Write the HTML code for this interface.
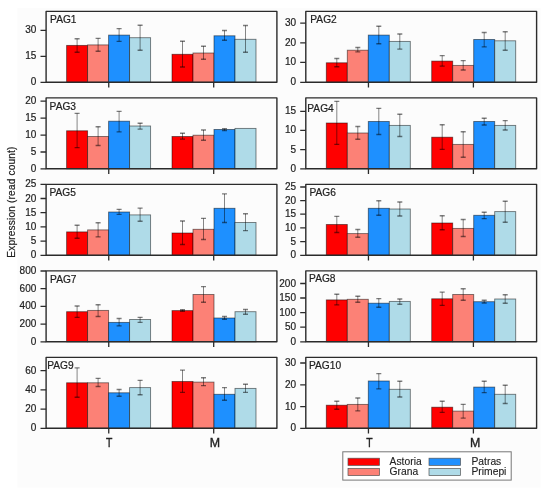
<!DOCTYPE html>
<html><head><meta charset="utf-8"><title>PAG expression</title>
<style>
html,body{margin:0;padding:0;background:#fff;}
svg{display:block;font-family:'Liberation Sans', Arial, Helvetica, sans-serif;}
text{stroke:#222;stroke-width:0.2px;}
.b{stroke:rgba(0,0,0,0.52);stroke-width:0.9;}
.e{stroke:rgba(0,0,0,0.47);stroke-width:1;fill:none;}
.c{stroke:rgba(0,0,0,0.5);stroke-width:1.4;fill:none;}
.fr{fill:none;stroke:#2b2b2b;stroke-width:1.4;stroke-linejoin:round;}
.tl{stroke:#2b2b2b;stroke-width:1.3;fill:none;}
.tk{font-size:10px;text-anchor:end;fill:#222;}
.ti{font-size:10.2px;fill:#222;}
.xl{font-size:12.4px;text-anchor:middle;fill:#222;stroke-width:0.35px;}
.yl{font-size:10.1px;letter-spacing:0.18px;fill:#222;}
.lg{font-size:10.3px;fill:#222;stroke-width:0.12px;}
</style></head>
<body>
<svg width="550" height="490" viewBox="0 0 550 490">
<rect x="17.5" y="8" width="523.2" height="479.5" fill="#fcfcfc"/>
<rect x="66.6" y="45.4" width="21" height="36.9" fill="#ff0000" class="b"/>
<rect x="87.6" y="44.9" width="21" height="37.4" fill="#fc8176" class="b"/>
<rect x="108.6" y="35.1" width="21" height="47.2" fill="#1e90ff" class="b"/>
<rect x="129.6" y="37.7" width="21" height="44.6" fill="#afdbe8" class="b"/>
<rect x="172" y="54.3" width="21" height="28" fill="#ff0000" class="b"/>
<rect x="193" y="53" width="21" height="29.3" fill="#fc8176" class="b"/>
<rect x="214" y="35.8" width="21" height="46.5" fill="#1e90ff" class="b"/>
<rect x="235" y="39.3" width="21" height="43" fill="#afdbe8" class="b"/>
<path class="e" d="M77.1 38.8V52.3"/><path class="c" d="M74.6 38.8h5M74.6 52.3h5"/>
<path class="e" d="M98.1 38.4V51.3"/><path class="c" d="M95.6 38.4h5M95.6 51.3h5"/>
<path class="e" d="M119.1 28.6V41.4"/><path class="c" d="M116.6 28.6h5M116.6 41.4h5"/>
<path class="e" d="M140.1 25.3V50.2"/><path class="c" d="M137.6 25.3h5M137.6 50.2h5"/>
<path class="e" d="M182.5 41.2V67"/><path class="c" d="M180 41.2h5M180 67h5"/>
<path class="e" d="M203.5 46.2V59.3"/><path class="c" d="M201 46.2h5M201 59.3h5"/>
<path class="e" d="M224.5 30.5V40.3"/><path class="c" d="M222 30.5h5M222 40.3h5"/>
<path class="e" d="M245.5 25.5V52.3"/><path class="c" d="M243 25.5h5M243 52.3h5"/>
<rect class="fr" x="46.1" y="11.4" width="230.8" height="70.9"/>
<text class="tk" x="36.3" y="85.3">0</text>
<text class="tk" x="36.3" y="59.3">15</text>
<text class="tk" x="36.3" y="33.3">30</text>
<path class="tl" d="M40.5 82.3H46.1M40.5 56.3H46.1M40.5 30.3H46.1M108.75 82.3v5.2M213.7 82.3v5.2"/>
<text class="ti" x="50.1" y="22.5">PAG1</text>
<rect x="326.3" y="62.8" width="21" height="19.5" fill="#ff0000" class="b"/>
<rect x="347.3" y="50.2" width="21" height="32.1" fill="#fc8176" class="b"/>
<rect x="368.3" y="35.1" width="21" height="47.2" fill="#1e90ff" class="b"/>
<rect x="389.3" y="41.4" width="21" height="40.9" fill="#afdbe8" class="b"/>
<rect x="431.7" y="61.1" width="21" height="21.2" fill="#ff0000" class="b"/>
<rect x="452.7" y="65.4" width="21" height="16.9" fill="#fc8176" class="b"/>
<rect x="473.7" y="39.5" width="21" height="42.8" fill="#1e90ff" class="b"/>
<rect x="494.7" y="40.8" width="21" height="41.5" fill="#afdbe8" class="b"/>
<path class="e" d="M336.8 58.5V66.7"/><path class="c" d="M334.3 58.5h5M334.3 66.7h5"/>
<path class="e" d="M357.8 47.5V51.9"/><path class="c" d="M355.3 47.5h5M355.3 51.9h5"/>
<path class="e" d="M378.8 26.2V43.8"/><path class="c" d="M376.3 26.2h5M376.3 43.8h5"/>
<path class="e" d="M399.8 34V49.1"/><path class="c" d="M397.3 34h5M397.3 49.1h5"/>
<path class="e" d="M442.2 55.6V66.1"/><path class="c" d="M439.7 55.6h5M439.7 66.1h5"/>
<path class="e" d="M463.2 60.6V70"/><path class="c" d="M460.7 60.6h5M460.7 70h5"/>
<path class="e" d="M484.2 32.5V46.9"/><path class="c" d="M481.7 32.5h5M481.7 46.9h5"/>
<path class="e" d="M505.2 31.8V50.2"/><path class="c" d="M502.7 31.8h5M502.7 50.2h5"/>
<rect class="fr" x="305.8" y="11.4" width="230.8" height="70.9"/>
<text class="tk" x="296" y="85.3">0</text>
<text class="tk" x="296" y="65.4">10</text>
<text class="tk" x="296" y="45.8">20</text>
<text class="tk" x="296" y="26.1">30</text>
<path class="tl" d="M300.2 82.3H305.8M300.2 62.4H305.8M300.2 42.8H305.8M300.2 23.1H305.8M368.45 82.3v5.2M473.4 82.3v5.2"/>
<text class="ti" x="310.3" y="23.3">PAG2</text>
<rect x="66.6" y="130.8" width="21" height="38" fill="#ff0000" class="b"/>
<rect x="87.6" y="136.5" width="21" height="32.3" fill="#fc8176" class="b"/>
<rect x="108.6" y="121.2" width="21" height="47.6" fill="#1e90ff" class="b"/>
<rect x="129.6" y="126" width="21" height="42.8" fill="#afdbe8" class="b"/>
<rect x="172" y="136.5" width="21" height="32.3" fill="#ff0000" class="b"/>
<rect x="193" y="135.2" width="21" height="33.6" fill="#fc8176" class="b"/>
<rect x="214" y="129.5" width="21" height="39.3" fill="#1e90ff" class="b"/>
<rect x="235" y="128.4" width="21" height="40.4" fill="#afdbe8" class="b"/>
<path class="e" d="M77.1 113.4V147.6"/><path class="c" d="M74.6 113.4h5M74.6 147.6h5"/>
<path class="e" d="M98.1 126.7V145.5"/><path class="c" d="M95.6 126.7h5M95.6 145.5h5"/>
<path class="e" d="M119.1 111.4V131.9"/><path class="c" d="M116.6 111.4h5M116.6 131.9h5"/>
<path class="e" d="M140.1 123.2V129.1"/><path class="c" d="M137.6 123.2h5M137.6 129.1h5"/>
<path class="e" d="M182.5 133.2V139.1"/><path class="c" d="M180 133.2h5M180 139.1h5"/>
<path class="e" d="M203.5 130V140.2"/><path class="c" d="M201 130h5M201 140.2h5"/>
<path class="e" d="M224.5 128.7V130.6"/><path class="c" d="M222 128.7h5M222 130.6h5"/>
<rect class="fr" x="46.1" y="97.9" width="230.8" height="70.9"/>
<text class="tk" x="36.3" y="171.8">0</text>
<text class="tk" x="36.3" y="155">5</text>
<text class="tk" x="36.3" y="138.1">10</text>
<text class="tk" x="36.3" y="121.2">15</text>
<text class="tk" x="36.3" y="104.2">20</text>
<path class="tl" d="M40.5 168.8H46.1M40.5 152H46.1M40.5 135.1H46.1M40.5 118.2H46.1M40.5 101.2H46.1M108.75 168.8v5.2M213.7 168.8v5.2"/>
<text class="ti" x="49.6" y="110">PAG3</text>
<rect x="326.3" y="123" width="21" height="45.8" fill="#ff0000" class="b"/>
<rect x="347.3" y="133" width="21" height="35.8" fill="#fc8176" class="b"/>
<rect x="368.3" y="121.5" width="21" height="47.3" fill="#1e90ff" class="b"/>
<rect x="389.3" y="125.4" width="21" height="43.4" fill="#afdbe8" class="b"/>
<rect x="431.7" y="137.2" width="21" height="31.6" fill="#ff0000" class="b"/>
<rect x="452.7" y="144.4" width="21" height="24.4" fill="#fc8176" class="b"/>
<rect x="473.7" y="121.5" width="21" height="47.3" fill="#1e90ff" class="b"/>
<rect x="494.7" y="125.4" width="21" height="43.4" fill="#afdbe8" class="b"/>
<path class="e" d="M336.8 101.4V144.4"/><path class="c" d="M334.3 101.4h5M334.3 144.4h5"/>
<path class="e" d="M357.8 126.5V139.3"/><path class="c" d="M355.3 126.5h5M355.3 139.3h5"/>
<path class="e" d="M378.8 108.4V134.5"/><path class="c" d="M376.3 108.4h5M376.3 134.5h5"/>
<path class="e" d="M399.8 114.3V136.5"/><path class="c" d="M397.3 114.3h5M397.3 136.5h5"/>
<path class="e" d="M442.2 124.7V149.4"/><path class="c" d="M439.7 124.7h5M439.7 149.4h5"/>
<path class="e" d="M463.2 131.7V157.2"/><path class="c" d="M460.7 131.7h5M460.7 157.2h5"/>
<path class="e" d="M484.2 118.2V125"/><path class="c" d="M481.7 118.2h5M481.7 125h5"/>
<path class="e" d="M505.2 120.6V130"/><path class="c" d="M502.7 120.6h5M502.7 130h5"/>
<rect class="fr" x="305.8" y="97.9" width="230.8" height="70.9"/>
<text class="tk" x="296" y="171.8">0</text>
<text class="tk" x="296" y="152.7">5</text>
<text class="tk" x="296" y="133.4">10</text>
<text class="tk" x="296" y="114.4">15</text>
<path class="tl" d="M300.2 168.8H305.8M300.2 149.7H305.8M300.2 130.4H305.8M300.2 111.4H305.8M368.45 168.8v5.2M473.4 168.8v5.2"/>
<text class="ti" x="307.3" y="112">PAG4</text>
<rect x="66.6" y="231.9" width="21" height="23.4" fill="#ff0000" class="b"/>
<rect x="87.6" y="229.9" width="21" height="25.4" fill="#fc8176" class="b"/>
<rect x="108.6" y="212" width="21" height="43.3" fill="#1e90ff" class="b"/>
<rect x="129.6" y="214.9" width="21" height="40.4" fill="#afdbe8" class="b"/>
<rect x="172" y="233" width="21" height="22.3" fill="#ff0000" class="b"/>
<rect x="193" y="229.3" width="21" height="26" fill="#fc8176" class="b"/>
<rect x="214" y="208.3" width="21" height="47" fill="#1e90ff" class="b"/>
<rect x="235" y="222.5" width="21" height="32.8" fill="#afdbe8" class="b"/>
<path class="e" d="M77.1 225.3V238.2"/><path class="c" d="M74.6 225.3h5M74.6 238.2h5"/>
<path class="e" d="M98.1 222.7V236.9"/><path class="c" d="M95.6 222.7h5M95.6 236.9h5"/>
<path class="e" d="M119.1 209.4V214.4"/><path class="c" d="M116.6 209.4h5M116.6 214.4h5"/>
<path class="e" d="M140.1 208.1V221.2"/><path class="c" d="M137.6 208.1h5M137.6 221.2h5"/>
<path class="e" d="M182.5 221V244.5"/><path class="c" d="M180 221h5M180 244.5h5"/>
<path class="e" d="M203.5 218.4V239.5"/><path class="c" d="M201 218.4h5M201 239.5h5"/>
<path class="e" d="M224.5 193.9V222.5"/><path class="c" d="M222 193.9h5M222 222.5h5"/>
<path class="e" d="M245.5 213.8V230.6"/><path class="c" d="M243 213.8h5M243 230.6h5"/>
<rect class="fr" x="46.1" y="184.4" width="230.8" height="70.9"/>
<text class="tk" x="36.3" y="258.3">0</text>
<text class="tk" x="36.3" y="244.1">5</text>
<text class="tk" x="36.3" y="229.9">10</text>
<text class="tk" x="36.3" y="215.7">15</text>
<text class="tk" x="36.3" y="201.5">20</text>
<text class="tk" x="36.3" y="187.4">25</text>
<path class="tl" d="M40.5 255.3H46.1M40.5 241.1H46.1M40.5 226.9H46.1M40.5 212.7H46.1M40.5 198.5H46.1M40.5 184.4H46.1M108.75 255.3v5.2M213.7 255.3v5.2"/>
<text class="ti" x="49.4" y="196.45">PAG5</text>
<rect x="326.3" y="224.5" width="21" height="30.8" fill="#ff0000" class="b"/>
<rect x="347.3" y="233.6" width="21" height="21.7" fill="#fc8176" class="b"/>
<rect x="368.3" y="208.3" width="21" height="47" fill="#1e90ff" class="b"/>
<rect x="389.3" y="209" width="21" height="46.3" fill="#afdbe8" class="b"/>
<rect x="431.7" y="223" width="21" height="32.3" fill="#ff0000" class="b"/>
<rect x="452.7" y="228.4" width="21" height="26.9" fill="#fc8176" class="b"/>
<rect x="473.7" y="215.3" width="21" height="40" fill="#1e90ff" class="b"/>
<rect x="494.7" y="211.6" width="21" height="43.7" fill="#afdbe8" class="b"/>
<path class="e" d="M336.8 216.4V232.5"/><path class="c" d="M334.3 216.4h5M334.3 232.5h5"/>
<path class="e" d="M357.8 229.5V237.3"/><path class="c" d="M355.3 229.5h5M355.3 237.3h5"/>
<path class="e" d="M378.8 200.7V215.3"/><path class="c" d="M376.3 200.7h5M376.3 215.3h5"/>
<path class="e" d="M399.8 202V216"/><path class="c" d="M397.3 202h5M397.3 216h5"/>
<path class="e" d="M442.2 215.7V229.7"/><path class="c" d="M439.7 215.7h5M439.7 229.7h5"/>
<path class="e" d="M463.2 219.5V236.5"/><path class="c" d="M460.7 219.5h5M460.7 236.5h5"/>
<path class="e" d="M484.2 212.3V218.6"/><path class="c" d="M481.7 212.3h5M481.7 218.6h5"/>
<path class="e" d="M505.2 201.3V222.3"/><path class="c" d="M502.7 201.3h5M502.7 222.3h5"/>
<rect class="fr" x="305.8" y="184.4" width="230.8" height="70.9"/>
<text class="tk" x="296" y="258.3">0</text>
<text class="tk" x="296" y="244.6">5</text>
<text class="tk" x="296" y="230.9">10</text>
<text class="tk" x="296" y="217.2">15</text>
<text class="tk" x="296" y="203.6">20</text>
<text class="tk" x="296" y="190">25</text>
<path class="tl" d="M300.2 255.3H305.8M300.2 241.6H305.8M300.2 227.9H305.8M300.2 214.2H305.8M300.2 200.6H305.8M300.2 187H305.8M368.45 255.3v5.2M473.4 255.3v5.2"/>
<text class="ti" x="309.5" y="195.9">PAG6</text>
<rect x="66.6" y="311.7" width="21" height="30.1" fill="#ff0000" class="b"/>
<rect x="87.6" y="310.4" width="21" height="31.4" fill="#fc8176" class="b"/>
<rect x="108.6" y="322.4" width="21" height="19.4" fill="#1e90ff" class="b"/>
<rect x="129.6" y="319.5" width="21" height="22.3" fill="#afdbe8" class="b"/>
<rect x="172" y="310.6" width="21" height="31.2" fill="#ff0000" class="b"/>
<rect x="193" y="294.5" width="21" height="47.3" fill="#fc8176" class="b"/>
<rect x="214" y="318" width="21" height="23.8" fill="#1e90ff" class="b"/>
<rect x="235" y="311.7" width="21" height="30.1" fill="#afdbe8" class="b"/>
<path class="e" d="M77.1 306V317.4"/><path class="c" d="M74.6 306h5M74.6 317.4h5"/>
<path class="e" d="M98.1 304.7V316.5"/><path class="c" d="M95.6 304.7h5M95.6 316.5h5"/>
<path class="e" d="M119.1 318.5V325.9"/><path class="c" d="M116.6 318.5h5M116.6 325.9h5"/>
<path class="e" d="M140.1 317.4V322.4"/><path class="c" d="M137.6 317.4h5M137.6 322.4h5"/>
<path class="e" d="M182.5 309.7V311.3"/><path class="c" d="M180 309.7h5M180 311.3h5"/>
<path class="e" d="M203.5 286.6V302.3"/><path class="c" d="M201 286.6h5M201 302.3h5"/>
<path class="e" d="M224.5 316.5V319.3"/><path class="c" d="M222 316.5h5M222 319.3h5"/>
<path class="e" d="M245.5 309.5V314.3"/><path class="c" d="M243 309.5h5M243 314.3h5"/>
<rect class="fr" x="46.1" y="270.9" width="230.8" height="70.9"/>
<text class="tk" x="36.3" y="344.8">0</text>
<text class="tk" x="36.3" y="327.1">200</text>
<text class="tk" x="36.3" y="309.4">400</text>
<text class="tk" x="36.3" y="291.7">600</text>
<text class="tk" x="36.3" y="274">800</text>
<path class="tl" d="M40.5 341.8H46.1M40.5 324.1H46.1M40.5 306.4H46.1M40.5 288.7H46.1M40.5 271H46.1M108.75 341.8v5.2M213.7 341.8v5.2"/>
<text class="ti" x="50.1" y="282.8">PAG7</text>
<rect x="326.3" y="299.9" width="21" height="41.9" fill="#ff0000" class="b"/>
<rect x="347.3" y="299.3" width="21" height="42.5" fill="#fc8176" class="b"/>
<rect x="368.3" y="303.2" width="21" height="38.6" fill="#1e90ff" class="b"/>
<rect x="389.3" y="301.4" width="21" height="40.4" fill="#afdbe8" class="b"/>
<rect x="431.7" y="298.8" width="21" height="43" fill="#ff0000" class="b"/>
<rect x="452.7" y="294.5" width="21" height="47.3" fill="#fc8176" class="b"/>
<rect x="473.7" y="301.7" width="21" height="40.1" fill="#1e90ff" class="b"/>
<rect x="494.7" y="299" width="21" height="42.8" fill="#afdbe8" class="b"/>
<path class="e" d="M336.8 294.2V304.9"/><path class="c" d="M334.3 294.2h5M334.3 304.9h5"/>
<path class="e" d="M357.8 296.2V302.3"/><path class="c" d="M355.3 296.2h5M355.3 302.3h5"/>
<path class="e" d="M378.8 298.6V307.3"/><path class="c" d="M376.3 298.6h5M376.3 307.3h5"/>
<path class="e" d="M399.8 299V304.3"/><path class="c" d="M397.3 299h5M397.3 304.3h5"/>
<path class="e" d="M442.2 292.1V305.4"/><path class="c" d="M439.7 292.1h5M439.7 305.4h5"/>
<path class="e" d="M463.2 288.8V300.3"/><path class="c" d="M460.7 288.8h5M460.7 300.3h5"/>
<path class="e" d="M484.2 300.3V303"/><path class="c" d="M481.7 300.3h5M481.7 303h5"/>
<path class="e" d="M505.2 294.7V303.2"/><path class="c" d="M502.7 294.7h5M502.7 303.2h5"/>
<rect class="fr" x="305.8" y="270.9" width="230.8" height="70.9"/>
<text class="tk" x="296" y="344.8">0</text>
<text class="tk" x="296" y="330.2">50</text>
<text class="tk" x="296" y="315.6">100</text>
<text class="tk" x="296" y="301">150</text>
<text class="tk" x="296" y="286.5">200</text>
<path class="tl" d="M300.2 341.8H305.8M300.2 327.2H305.8M300.2 312.6H305.8M300.2 298H305.8M300.2 283.5H305.8M368.45 341.8v5.2M473.4 341.8v5.2"/>
<text class="ti" x="309.1" y="282.1">PAG8</text>
<rect x="66.6" y="382.8" width="21" height="45.5" fill="#ff0000" class="b"/>
<rect x="87.6" y="382.8" width="21" height="45.5" fill="#fc8176" class="b"/>
<rect x="108.6" y="392.8" width="21" height="35.5" fill="#1e90ff" class="b"/>
<rect x="129.6" y="387.6" width="21" height="40.7" fill="#afdbe8" class="b"/>
<rect x="172" y="381.5" width="21" height="46.8" fill="#ff0000" class="b"/>
<rect x="193" y="382.1" width="21" height="46.2" fill="#fc8176" class="b"/>
<rect x="214" y="394.3" width="21" height="34" fill="#1e90ff" class="b"/>
<rect x="235" y="388.4" width="21" height="39.9" fill="#afdbe8" class="b"/>
<path class="e" d="M77.1 367.9V397.2"/><path class="c" d="M74.6 367.9h5M74.6 397.2h5"/>
<path class="e" d="M98.1 378.4V386.5"/><path class="c" d="M95.6 378.4h5M95.6 386.5h5"/>
<path class="e" d="M119.1 389.5V396.3"/><path class="c" d="M116.6 389.5h5M116.6 396.3h5"/>
<path class="e" d="M140.1 380.4V394.8"/><path class="c" d="M137.6 380.4h5M137.6 394.8h5"/>
<path class="e" d="M182.5 370.1V392.4"/><path class="c" d="M180 370.1h5M180 392.4h5"/>
<path class="e" d="M203.5 377.7V385.6"/><path class="c" d="M201 377.7h5M201 385.6h5"/>
<path class="e" d="M224.5 387.6V400.2"/><path class="c" d="M222 387.6h5M222 400.2h5"/>
<path class="e" d="M245.5 384.3V392.4"/><path class="c" d="M243 384.3h5M243 392.4h5"/>
<rect class="fr" x="46.1" y="357.4" width="230.8" height="70.9"/>
<text class="tk" x="36.3" y="431.3">0</text>
<text class="tk" x="36.3" y="412.1">20</text>
<text class="tk" x="36.3" y="392.9">40</text>
<text class="tk" x="36.3" y="373.6">60</text>
<path class="tl" d="M40.5 428.3H46.1M40.5 409.1H46.1M40.5 389.9H46.1M40.5 370.6H46.1M108.75 428.3v5.2M213.7 428.3v5.2"/>
<text class="ti" x="47.2" y="368.7">PAG9</text>
<rect x="326.3" y="405.2" width="21" height="23.1" fill="#ff0000" class="b"/>
<rect x="347.3" y="404.4" width="21" height="23.9" fill="#fc8176" class="b"/>
<rect x="368.3" y="381" width="21" height="47.3" fill="#1e90ff" class="b"/>
<rect x="389.3" y="389.3" width="21" height="39" fill="#afdbe8" class="b"/>
<rect x="431.7" y="407.2" width="21" height="21.1" fill="#ff0000" class="b"/>
<rect x="452.7" y="411.1" width="21" height="17.2" fill="#fc8176" class="b"/>
<rect x="473.7" y="387.1" width="21" height="41.2" fill="#1e90ff" class="b"/>
<rect x="494.7" y="394.3" width="21" height="34" fill="#afdbe8" class="b"/>
<path class="e" d="M336.8 401.3V409.2"/><path class="c" d="M334.3 401.3h5M334.3 409.2h5"/>
<path class="e" d="M357.8 398V410.9"/><path class="c" d="M355.3 398h5M355.3 410.9h5"/>
<path class="e" d="M378.8 373.6V388.9"/><path class="c" d="M376.3 373.6h5M376.3 388.9h5"/>
<path class="e" d="M399.8 381.2V397"/><path class="c" d="M397.3 381.2h5M397.3 397h5"/>
<path class="e" d="M442.2 401.3V412.4"/><path class="c" d="M439.7 401.3h5M439.7 412.4h5"/>
<path class="e" d="M463.2 404.4V418.1"/><path class="c" d="M460.7 404.4h5M460.7 418.1h5"/>
<path class="e" d="M484.2 381.2V392.6"/><path class="c" d="M481.7 381.2h5M481.7 392.6h5"/>
<path class="e" d="M505.2 385.2V403.5"/><path class="c" d="M502.7 385.2h5M502.7 403.5h5"/>
<rect class="fr" x="305.8" y="357.4" width="230.8" height="70.9"/>
<text class="tk" x="296" y="431.3">0</text>
<text class="tk" x="296" y="409.6">10</text>
<text class="tk" x="296" y="387.8">20</text>
<text class="tk" x="296" y="366">30</text>
<path class="tl" d="M300.2 428.3H305.8M300.2 406.6H305.8M300.2 384.8H305.8M300.2 363H305.8M368.45 428.3v5.2M473.4 428.3v5.2"/>
<text class="ti" x="309" y="369.4">PAG10</text>
<text class="xl" transform="translate(109.2 446.8) scale(0.84 1)">T</text>
<text class="xl" x="214.9" y="446.8">M</text>
<text class="xl" transform="translate(369.4 446.8) scale(0.84 1)">T</text>
<text class="xl" x="475.1" y="446.8">M</text>
<text class="yl" transform="translate(14.7 257.7) rotate(-90)">Expression (read count)</text>
<rect x="342.8" y="451.8" width="168.4" height="28.3" fill="#fff" stroke="#777" stroke-width="1"/>
<rect x="348" y="458.2" width="31.5" height="7.2" fill="#ff0000" stroke="#555" stroke-width="0.7"/>
<text class="lg" x="389.6" y="464.8">Astoria</text>
<rect x="348" y="468.4" width="31.5" height="7.2" fill="#fc8176" stroke="#555" stroke-width="0.7"/>
<text class="lg" x="389.6" y="475.4">Grana</text>
<rect x="429" y="458.2" width="31.5" height="7.2" fill="#1e90ff" stroke="#555" stroke-width="0.7"/>
<text class="lg" x="471.5" y="464.8">Patras</text>
<rect x="429" y="468.4" width="31.5" height="7.2" fill="#afdbe8" stroke="#555" stroke-width="0.7"/>
<text class="lg" x="471.5" y="475.4">Primepi</text>
</svg>
</body></html>
